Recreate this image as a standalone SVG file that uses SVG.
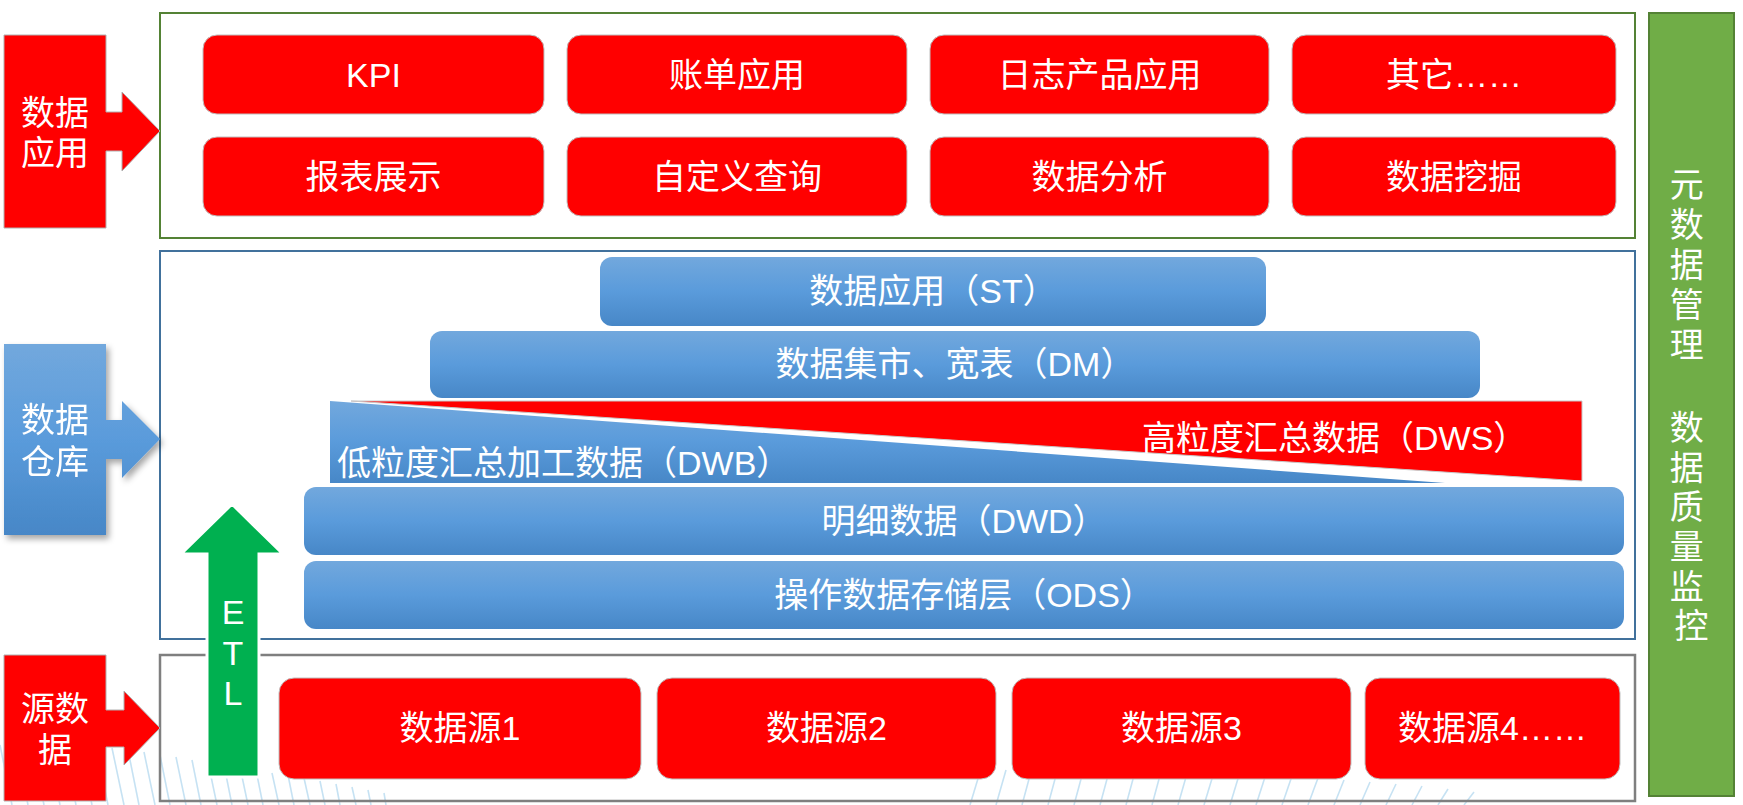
<svg xmlns="http://www.w3.org/2000/svg" width="1743" height="805" viewBox="0 0 1743 805">
  <defs>
    <style>
      .t { font-family: "Liberation Sans", "Noto Sans CJK SC", "Microsoft YaHei", sans-serif; fill: #ffffff; text-anchor: middle; }
      .f34 { font-size: 34px; }
      .rbox { fill: #ff0000; stroke: #bfbfbf; stroke-width: 1; }
      .bbar { fill: url(#blueGrad); }
      .hatch { stroke: #c6e2f3; stroke-width: 1.6; fill: none; }
      .frame { fill: none; }
    </style>
    <linearGradient id="blueGrad" x1="0" y1="0" x2="0" y2="1">
      <stop offset="0" stop-color="#72a8dd"/>
      <stop offset="0.5" stop-color="#5a9bdb"/>
      <stop offset="1" stop-color="#4787c7"/>
    </linearGradient>
    <filter id="shadow" x="-20%" y="-20%" width="150%" height="150%">
      <feDropShadow dx="3" dy="4" stdDeviation="3" flood-color="#000" flood-opacity="0.35"/>
    </filter>
  </defs>

  <rect x="0" y="0" width="1743" height="805" fill="#ffffff"/>

  <!-- faint background hatch -->
  <g id="background-hatch" class="hatch">
    <line x1="0" y1="745" x2="12" y2="805"/>
    <line x1="16" y1="745" x2="28" y2="805"/>
    <line x1="32" y1="745" x2="44" y2="805"/>
    <line x1="48" y1="745" x2="60" y2="805"/>
    <line x1="64" y1="745" x2="76" y2="805"/>
    <line x1="80" y1="745" x2="92" y2="805"/>
    <line x1="96" y1="746" x2="108" y2="805"/>
    <line x1="112" y1="748" x2="124" y2="805"/>
    <line x1="128" y1="750" x2="139" y2="805"/>
    <line x1="144" y1="752" x2="155" y2="805"/>
    <line x1="160" y1="755" x2="170" y2="805"/>
    <line x1="176" y1="757" x2="186" y2="805"/>
    <line x1="192" y1="760" x2="201" y2="805"/>
    <line x1="208" y1="762" x2="217" y2="805"/>
    <line x1="224" y1="765" x2="232" y2="805"/>
    <line x1="240" y1="767" x2="248" y2="805"/>
    <line x1="256" y1="770" x2="263" y2="805"/>
    <line x1="272" y1="773" x2="279" y2="805"/>
    <line x1="288" y1="775" x2="294" y2="805"/>
    <line x1="304" y1="778" x2="310" y2="805"/>
    <line x1="320" y1="781" x2="325" y2="805"/>
    <line x1="336" y1="784" x2="340" y2="805"/>
    <line x1="352" y1="787" x2="356" y2="805"/>
    <line x1="368" y1="790" x2="371" y2="805"/>
    <line x1="384" y1="793" x2="386" y2="805"/>
    <line x1="980" y1="772" x2="970" y2="805"/>
    <line x1="1006" y1="770" x2="996" y2="805"/>
    <line x1="1032" y1="768" x2="1022" y2="805"/>
    <line x1="1058" y1="768" x2="1048" y2="805"/>
    <line x1="1084" y1="768" x2="1074" y2="805"/>
    <line x1="1110" y1="768" x2="1100" y2="805"/>
    <line x1="1136" y1="768" x2="1126" y2="805"/>
    <line x1="1162" y1="768" x2="1152" y2="805"/>
    <line x1="1188" y1="770" x2="1178" y2="805"/>
    <line x1="1214" y1="772" x2="1204" y2="805"/>
    <line x1="1240" y1="772" x2="1230" y2="805"/>
    <line x1="1266" y1="774" x2="1256" y2="805"/>
    <line x1="1292" y1="776" x2="1282" y2="805"/>
    <line x1="1318" y1="778" x2="1308" y2="805"/>
    <line x1="1344" y1="780" x2="1334" y2="805"/>
    <line x1="1370" y1="782" x2="1360" y2="805"/>
    <line x1="1396" y1="784" x2="1386" y2="805"/>
    <line x1="1422" y1="786" x2="1412" y2="805"/>
    <line x1="1448" y1="789" x2="1438" y2="805"/>
    <line x1="1474" y1="792" x2="1464" y2="805"/>
  </g>

  <!-- Data application layer -->
  <g id="layer-data-app">
    <rect class="frame" x="160" y="13" width="1475" height="225" stroke="#548235" stroke-width="2"/>
    <g id="label-data-app">
      <polygon points="4,35 106,35 106,112 122,112 122,92 160,131 122,171 122,151 106,151 106,228 4,228" fill="#ff0000" stroke="#b0b0b0" stroke-width="1"/>
      <text class="t f34" x="55" y="125">数据</text>
      <text class="t f34" x="55" y="165">应用</text>
    </g>
    <g id="node-kpi"><rect class="rbox" x="203" y="35" width="341" height="79" rx="14"/><text class="t f34" x="373.5" y="87">KPI</text></g>
    <g id="node-bill"><rect class="rbox" x="567" y="35" width="340" height="79" rx="14"/><text class="t f34" x="737" y="87">账单应用</text></g>
    <g id="node-log"><rect class="rbox" x="930" y="35" width="339" height="79" rx="14"/><text class="t f34" x="1099.5" y="87">日志产品应用</text></g>
    <g id="node-other"><rect class="rbox" x="1292" y="35" width="324" height="79" rx="14"/><text class="t f34" x="1454" y="87">其它……</text></g>
    <g id="node-report"><rect class="rbox" x="203" y="137" width="341" height="79" rx="14"/><text class="t f34" x="373.5" y="189">报表展示</text></g>
    <g id="node-query"><rect class="rbox" x="567" y="137" width="340" height="79" rx="14"/><text class="t f34" x="737" y="189">自定义查询</text></g>
    <g id="node-analysis"><rect class="rbox" x="930" y="137" width="339" height="79" rx="14"/><text class="t f34" x="1099.5" y="189">数据分析</text></g>
    <g id="node-mining"><rect class="rbox" x="1292" y="137" width="324" height="79" rx="14"/><text class="t f34" x="1454" y="189">数据挖掘</text></g>
  </g>

  <!-- Data warehouse layer -->
  <g id="layer-dw">
    <rect class="frame" x="160" y="251" width="1475" height="388" stroke="#41719c" stroke-width="2"/>
    <g id="label-dw" filter="url(#shadow)">
      <polygon points="4,344 106,344 106,420 122,420 122,401 160,439 122,478 122,459 106,459 106,535 4,535" fill="url(#blueGrad)"/>
      <text class="t f34" x="55" y="432">数据</text>
      <text class="t f34" x="55" y="474">仓库</text>
    </g>
    <g id="node-st"><rect class="bbar" x="600" y="257" width="666" height="69" rx="12"/><text class="t f34" x="933" y="303">数据应用（ST）</text></g>
    <g id="node-dm"><rect class="bbar" x="430" y="331" width="1050" height="67" rx="12"/><text class="t f34" x="955" y="376">数据集市、宽表（DM）</text></g>
    <g id="node-dws">
      <polygon points="351,401 1582,401 1582,481" fill="#ff0000" stroke="#c8c8c8" stroke-width="1"/>
      <text class="t f34" x="1142" y="450" style="text-anchor:start">高粒度汇总数据（DWS）</text>
    </g>
    <g id="node-dwb">
      <polygon points="330,401 1445,483 330,483" fill="url(#blueGrad)"/>
      <text class="t f34" x="337" y="475" style="text-anchor:start">低粒度汇总加工数据（DWB）</text>
    </g>
    <g id="node-dwd"><rect class="bbar" x="304" y="487" width="1320" height="68" rx="12"/><text class="t f34" x="964" y="533">明细数据（DWD）</text></g>
    <g id="node-ods"><rect class="bbar" x="304" y="561" width="1320" height="68" rx="12"/><text class="t f34" x="964" y="607">操作数据存储层（ODS）</text></g>
  </g>

  <!-- Source data layer -->
  <g id="layer-source">
    <rect class="frame" x="160" y="655" width="1475" height="146" stroke="#7f7f7f" stroke-width="2.5"/>
    <g id="label-source">
      <polygon points="4,655 106,655 106,710 124,710 124,691 160,728 124,765 124,747 106,747 106,801 4,801" fill="#ff0000" stroke="#b0b0b0" stroke-width="1"/>
      <text class="t f34" x="55" y="721">源数</text>
      <text class="t f34" x="55" y="762">据</text>
    </g>
    <g id="node-src1"><rect class="rbox" x="279" y="678" width="362" height="101" rx="15"/><text class="t f34" x="460" y="740">数据源1</text></g>
    <g id="node-src2"><rect class="rbox" x="657" y="678" width="339" height="101" rx="15"/><text class="t f34" x="826.5" y="740">数据源2</text></g>
    <g id="node-src3"><rect class="rbox" x="1012" y="678" width="339" height="101" rx="15"/><text class="t f34" x="1181.5" y="740">数据源3</text></g>
    <g id="node-src4"><rect class="rbox" x="1365" y="678" width="255" height="101" rx="15"/><text class="t f34" x="1492.5" y="740">数据源4……</text></g>
  </g>

  <!-- Metadata / quality bar -->
  <g id="node-meta">
    <rect x="1649" y="13" width="85" height="783" fill="#70ad47" stroke="#548235" stroke-width="2"/>
    <text class="t f34" x="1691.5" y="197">
      <tspan x="1691.5" y="197">元</tspan>
      <tspan x="1691.5" y="237">数</tspan>
      <tspan x="1691.5" y="277">据</tspan>
      <tspan x="1691.5" y="317">管</tspan>
      <tspan x="1691.5" y="357">理</tspan>
      <tspan x="1691.5" y="440">数</tspan>
      <tspan x="1691.5" y="480">据</tspan>
      <tspan x="1691.5" y="519">质</tspan>
      <tspan x="1691.5" y="559">量</tspan>
      <tspan x="1691.5" y="599">监</tspan>
      <tspan x="1691.5" y="638">控</tspan>
    </text>
  </g>

  <!-- Connectors -->
  <g id="connectors">
    <g id="etl-arrow">
      <polygon points="232,504 283,554 259,554 259,777 207,777 207,554 181,554" fill="#00b050" stroke="#ffffff" stroke-width="3" stroke-linejoin="miter"/>
      <text class="t" x="233" y="624" style="font-size:34px">E</text>
      <text class="t" x="233" y="665" style="font-size:34px">T</text>
      <text class="t" x="233" y="705" style="font-size:34px">L</text>
    </g>
  </g>
</svg>
